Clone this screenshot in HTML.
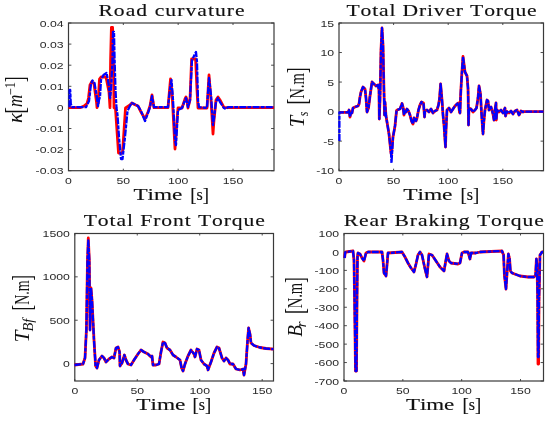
<!DOCTYPE html>
<html><head><meta charset="utf-8"><title>Figure</title>
<style>
html,body{margin:0;padding:0;background:#fff;width:550px;height:421px;overflow:hidden}
svg{display:block}
text{font-kerning:none;font-variant-ligatures:none}
.tk{font-family:"Liberation Sans",Arial,sans-serif;font-size:8.9px;fill:#2a2a2a}
.ti{font-family:"Liberation Serif","Times New Roman",serif;font-size:17px;fill:#111;stroke:#111;stroke-width:0.15px}
.xl{font-family:"Liberation Serif","Times New Roman",serif;font-size:16px;fill:#111;stroke:#111;stroke-width:0.15px}
.yl{font-family:"Liberation Serif","DejaVu Serif",serif;font-size:16px;fill:#111}
</style></head>
<body>
<svg width="550" height="421" viewBox="0 0 550 421">
<rect width="550" height="421" fill="#fff"/>
<clipPath id="cTL"><rect x="67.3" y="21.8" width="207.9" height="150.1"/></clipPath>
<clipPath id="cTR"><rect x="337.8" y="21.8" width="206.9" height="150.1"/></clipPath>
<clipPath id="cBL"><rect x="73.6" y="232.3" width="201.1" height="149.9"/></clipPath>
<clipPath id="cBR"><rect x="342.8" y="232.3" width="201.9" height="149.9"/></clipPath>
<rect x="68.5" y="23" width="205.5" height="147.7" fill="none" stroke="#3a3a3a" stroke-width="1.2"/>
<path d="M68.50 170.7v-2.0M68.50 23v2.0M123.34 170.7v-2.0M123.34 23v2.0M178.17 170.7v-2.0M178.17 23v2.0M233.00 170.7v-2.0M233.00 23v2.0M68.5 23.00h2.9M274 23.00h-2.9M68.5 44.10h2.9M274 44.10h-2.9M68.5 65.20h2.9M274 65.20h-2.9M68.5 86.30h2.9M274 86.30h-2.9M68.5 107.40h2.9M274 107.40h-2.9M68.5 128.50h2.9M274 128.50h-2.9M68.5 149.60h2.9M274 149.60h-2.9M68.5 170.70h2.9M274 170.70h-2.9" stroke="#3a3a3a" stroke-width="0.9" fill="none"/>
<g clip-path="url(#cTL)" fill="none" stroke-linejoin="round">
<polyline points="68.5,107.7 80,107.7 84,106 87,103.5 88.5,98 90,85 92,81.5 94,84 96.5,102 97,107.7 98,104 99.5,79 101,77 106,77 109,92 110,107.7 110.6,60 111.4,27.5 112.6,27.5 113.4,60 114,107.7 115.5,109 118.5,153 122.5,153 125.5,108 127,107 130,105 132,103 134.5,104.5 138,106 141,112 145,119 148,112 150,106 152,95 154,107.7 168,107.7 170.5,79 172,92 175,149 177,120 178,108 182,108 185,99 186,97 187,100 188,108 190,100 191.6,59 195.6,59 197,90 198,108 207,108 209,75 211,100 213,134 214,120 216,100 218,97 220,100 224,107.7 274,107.7" stroke="#ff0000" stroke-width="2.8"/>
<polyline points="69.6,107.2 69.6,90 70.2,90 70.8,104 72,107.2 86,107.2 89,101 89.5,97 91,84 92.5,80.5 94.5,83 97,98 98,106 99,100 100,97 101,80 103.5,75 106.5,73 108,80 109,87 110,98 111,90 112.5,60 113,32 114,32 114.6,60 115.5,90 116.5,108 117.5,115 119,137 121,159 122.5,159 125,137 127.5,111 131.5,103 134.5,104 138,106 141,111 145,121 148,113 150,107.2 152,96 154,107.2 168,107.2 170.5,85 171.5,80 173,100 175,140 176,145 178,110 182,108 185,100 186,98 188,107.2 190,100 192,60 196,52 197,62 198,100 199,107.2 207,108 209,78 211,95 213,125 214,118 216,102 218,98 220,102 224,108 226,109 228,107.2 274,107.2" stroke="#0000ff" stroke-width="2.3" stroke-dasharray="7 1.1 4 1.1"/>
</g>
<text class="tk" text-anchor="middle" transform="translate(68.50 184.00) scale(1.38 1)">0</text>
<text class="tk" text-anchor="middle" transform="translate(123.34 184.00) scale(1.38 1)">50</text>
<text class="tk" text-anchor="middle" transform="translate(178.17 184.00) scale(1.38 1)">100</text>
<text class="tk" text-anchor="middle" transform="translate(233.00 184.00) scale(1.38 1)">150</text>
<text class="tk" text-anchor="end" transform="translate(63.60 26.60) scale(1.38 1)">0.04</text>
<text class="tk" text-anchor="end" transform="translate(63.60 47.70) scale(1.38 1)">0.03</text>
<text class="tk" text-anchor="end" transform="translate(63.60 68.80) scale(1.38 1)">0.02</text>
<text class="tk" text-anchor="end" transform="translate(63.60 89.90) scale(1.38 1)">0.01</text>
<text class="tk" text-anchor="end" transform="translate(63.60 111.00) scale(1.38 1)">0</text>
<text class="tk" text-anchor="end" transform="translate(63.60 132.10) scale(1.38 1)">-0.01</text>
<text class="tk" text-anchor="end" transform="translate(63.60 153.20) scale(1.38 1)">-0.02</text>
<text class="tk" text-anchor="end" transform="translate(63.60 174.30) scale(1.38 1)">-0.03</text>
<rect x="339" y="23" width="204.5" height="147.7" fill="none" stroke="#3a3a3a" stroke-width="1.2"/>
<path d="M339.00 170.7v-2.0M339.00 23v2.0M393.60 170.7v-2.0M393.60 23v2.0M448.20 170.7v-2.0M448.20 23v2.0M502.80 170.7v-2.0M502.80 23v2.0M339 22.98h2.9M543.5 22.98h-2.9M339 52.52h2.9M543.5 52.52h-2.9M339 82.06h2.9M543.5 82.06h-2.9M339 111.60h2.9M543.5 111.60h-2.9M339 141.14h2.9M543.5 141.14h-2.9M339 170.68h2.9M543.5 170.68h-2.9" stroke="#3a3a3a" stroke-width="0.9" fill="none"/>
<g clip-path="url(#cTR)" fill="none" stroke-linejoin="round">
<polyline points="339.5,112.3 348,112.3 349,110 350,117 351,112 352,113 353,108 355,107 358,106 359,104 360,97 361,92 363,87 365,89 366,98 367,112 368.5,108 370,96 372,82 374,84 376,86 378,85 379,90 379.3,119 380,100 381,50 382,28 383,45 384,92 384.5,115 385,102 386,116 387,122 389,134 391,153 391.5,154 393,137 395,126 396.5,111 397,110 400,109 402,103.5 403,107 404,115 405,110 406,112 407,109 408.5,111 410,115 411.5,121 413,124 414,118 415,120 416,121 417,118 418.5,110 420,105 421.5,102 423.5,103 424.5,117 425,111 427,110 429,112 431,109 433,113 435,111 437,110 438.5,105 439.5,99 440.6,84 442,100 443,115 444,125 445,140 445.5,147 446,130 447,110 449,108 451,112 453,109 455,106 457,104 458.5,103 459.5,112 460,113 460.5,98 461,88 462,71 463,56.5 465,72 467,76 468,88 468.2,98 468.5,125 469,108 471,109 473,112 475,110 476.5,108 478,98 479,86 480.5,94 481.5,113 483,134 484,120 485,110 487,100 488,101 489,110 491,107 493,114 494,120 495,110 496,103 496.3,120 497,110 499,112 501,110 503,113 505,108 505.5,116 507,111.5 509,113 511,111 513,114 515,111 517,110 519,115 521,111 523,112 524,111.6 543.5,111.6" stroke="#ff0000" stroke-width="2.8"/>
<polyline points="339.4,141 339.4,112.3 339.5,112.3 348,112.3 349,110 350,117 351,112 352,113 353,108 355,107 358,106 359,104 360,97 361,92 363,87 365,89 366,98 367,112 368.5,108 370,96 372,82 374,84 376,86 378,85 379,90 379.3,119 380,100 381,50 382,28 383,45 384,92 384.5,115 385,102 386,116 387,122 389,134 391,153 391.5,163 393,137 395,126 396.5,111 397,110 400,109 402,103.5 403,107 404,115 405,110 406,112 407,109 408.5,111 410,115 411.5,121 413,124 414,118 415,120 416,121 417,118 418.5,110 420,105 421.5,102 423.5,103 424.5,117 425,111 427,110 429,112 431,109 433,113 435,111 437,110 438.5,105 439.5,99 440.6,84 442,100 443,115 444,125 445,140 445.5,147 446,130 447,110 449,108 451,112 453,109 455,106 457,104 458.5,103 459.5,112 460,113 460.5,98 461,88 462,71 463,56.5 465,72 467,76 468,88 468.2,98 468.5,125 469,108 471,109 473,112 475,110 476.5,108 478,98 479,86 480.5,94 481.5,113 483,134 484,120 485,110 487,100 488,101 489,110 491,107 493,114 494,120 495,110 496,103 496.3,120 497,110 499,112 501,110 503,113 505,108 505.5,116 507,111.5 509,113 511,111 513,114 515,111 517,110 519,115 521,111 523,112 524,111.6 543.5,111.6" stroke="#0000ff" stroke-width="2.3" stroke-dasharray="7 1.1 4 1.1"/>
</g>
<text class="tk" text-anchor="middle" transform="translate(339.00 184.00) scale(1.38 1)">0</text>
<text class="tk" text-anchor="middle" transform="translate(393.60 184.00) scale(1.38 1)">50</text>
<text class="tk" text-anchor="middle" transform="translate(448.20 184.00) scale(1.38 1)">100</text>
<text class="tk" text-anchor="middle" transform="translate(502.80 184.00) scale(1.38 1)">150</text>
<text class="tk" text-anchor="end" transform="translate(334.10 26.58) scale(1.38 1)">15</text>
<text class="tk" text-anchor="end" transform="translate(334.10 56.12) scale(1.38 1)">10</text>
<text class="tk" text-anchor="end" transform="translate(334.10 85.66) scale(1.38 1)">5</text>
<text class="tk" text-anchor="end" transform="translate(334.10 115.20) scale(1.38 1)">0</text>
<text class="tk" text-anchor="end" transform="translate(334.10 144.74) scale(1.38 1)">-5</text>
<text class="tk" text-anchor="end" transform="translate(334.10 174.28) scale(1.38 1)">-10</text>
<rect x="74.8" y="233.5" width="198.7" height="147.5" fill="none" stroke="#3a3a3a" stroke-width="1.2"/>
<path d="M74.80 381v-2.0M74.80 233.5v2.0M137.26 381v-2.0M137.26 233.5v2.0M199.73 381v-2.0M199.73 233.5v2.0M262.19 381v-2.0M262.19 233.5v2.0M74.8 233.46h2.9M273.5 233.46h-2.9M74.8 276.84h2.9M273.5 276.84h-2.9M74.8 320.22h2.9M273.5 320.22h-2.9M74.8 363.60h2.9M273.5 363.60h-2.9" stroke="#3a3a3a" stroke-width="0.9" fill="none"/>
<g clip-path="url(#cBL)" fill="none" stroke-linejoin="round">
<polyline points="74.5,365 83,364 85,358 86.4,330 87.5,260 88.3,238 89.3,260 90,330 90.5,300 91,288 92,300 94,340 95.6,366 97,368 99,360 102,356 104,358 106,362 109,359 112,357 114,358 116,348 118,347 119.6,352 120,366 122,363 124.4,355 126,360 128,364 131,365 134,360 138,354 141,350 144,352 148,354 151,357 152,356 153,365 156,365 159,364 161,352 163,342 165,343 167,348 170,350 173,355 176,357 180,360 181.6,368 183,371 185,364 188,356 191,350 194,354 195,357 197,349 199,350 201,360 204,364 207,366 208,370 211,362 214,353 217,347 219,348 222,358 224,361 226,358 228,360 230,364 233,364 236,369 240,370 243,369 244,375 246,364 247.6,340 248.6,328 250,334 251,343 254,345.5 260,347.5 266,348.5 273.5,349.2" stroke="#ff0000" stroke-width="2.8"/>
<polyline points="74.5,365 83,364 85,358 86.4,330 87.5,260 88.3,240.5 89.3,260 90,330 90.5,300 91,288 92,300 94,340 95.6,366 97,368 99,360 102,356 104,358 106,362 109,359 112,357 114,358 116,348 118,347 119.6,352 120,366 122,363 124.4,355 126,360 128,364 131,365 134,360 138,354 141,350 144,352 148,354 151,357 152,356 153,365 156,365 159,364 161,352 163,342 165,343 167,348 170,350 173,355 176,357 180,360 181.6,368 183,371 185,364 188,356 191,350 194,354 195,357 197,349 199,350 201,360 204,364 207,366 208,370 211,362 214,353 217,347 219,348 222,358 224,361 226,358 228,360 230,364 233,364 236,369 240,370 243,369 244,375 246,364 247.6,340 248.6,328 250,334 251,343 254,345.5 260,347.5 266,348.5 273.5,349.2" stroke="#0000ff" stroke-width="2.3" stroke-dasharray="7 1.1 4 1.1"/>
</g>
<text class="tk" text-anchor="middle" transform="translate(74.80 394.30) scale(1.38 1)">0</text>
<text class="tk" text-anchor="middle" transform="translate(137.26 394.30) scale(1.38 1)">50</text>
<text class="tk" text-anchor="middle" transform="translate(199.73 394.30) scale(1.38 1)">100</text>
<text class="tk" text-anchor="middle" transform="translate(262.19 394.30) scale(1.38 1)">150</text>
<text class="tk" text-anchor="end" transform="translate(69.90 237.06) scale(1.38 1)">1500</text>
<text class="tk" text-anchor="end" transform="translate(69.90 280.44) scale(1.38 1)">1000</text>
<text class="tk" text-anchor="end" transform="translate(69.90 323.82) scale(1.38 1)">500</text>
<text class="tk" text-anchor="end" transform="translate(69.90 367.20) scale(1.38 1)">0</text>
<rect x="344" y="233.5" width="199.5" height="147.5" fill="none" stroke="#3a3a3a" stroke-width="1.2"/>
<path d="M344.00 381v-2.0M344.00 233.5v2.0M402.83 381v-2.0M402.83 233.5v2.0M461.67 381v-2.0M461.67 233.5v2.0M520.50 381v-2.0M520.50 233.5v2.0M344 233.50h2.9M543.5 233.50h-2.9M344 251.94h2.9M543.5 251.94h-2.9M344 270.38h2.9M543.5 270.38h-2.9M344 288.81h2.9M543.5 288.81h-2.9M344 307.25h2.9M543.5 307.25h-2.9M344 325.69h2.9M543.5 325.69h-2.9M344 344.13h2.9M543.5 344.13h-2.9M344 362.56h2.9M543.5 362.56h-2.9M344 381.00h2.9M543.5 381.00h-2.9" stroke="#3a3a3a" stroke-width="0.9" fill="none"/>
<g clip-path="url(#cBR)" fill="none" stroke-linejoin="round">
<polyline points="344.6,258 345.2,252.5 346,252 353,251 354,260 355,330 355.5,371 356.5,371 357,300 357.5,256 358,253 360,254 362,258 364,261 366,253 368,252 382,252 383,260 384,273 386,276 387,265 388,253 402,252 405,257 408,263 411,268 414,272 416,264 418,255 420,252 422,255 425,269 427,277 429,254 432,255 436,261 440,267 444,271 447,254 449,261 451,263 458,264 460,263 462,253 464,252 468,252 470,259 471,253 476,253 480,252 502,251 503.6,255 504.4,275 506,289 507.6,265 508.4,254 509.6,259 510.4,271 512,273 520,276 528,277 534,277 535.6,275 536.4,259 537,265 537.6,295 538,364 538.6,364 539,300 540,255 542,252 543,252" stroke="#ff0000" stroke-width="2.8"/>
<polyline points="344.6,258 345.2,252.5 346,252 353,251 354,260 355,330 355.5,371 356.5,371 357,300 357.5,256 358,253 360,254 362,258 364,261 366,253 368,252 382,252 383,260 384,273 386,276 387,265 388,253 402,252 405,257 408,263 411,268 414,272 416,264 418,255 420,252 422,255 425,269 427,277 429,254 432,255 436,261 440,267 444,271 447,254 449,261 451,263 458,264 460,263 462,253 464,252 468,252 470,259 471,253 476,253 480,252 502,251 503.6,255 504.4,275 506,289 507.6,265 508.4,254 509.6,259 510.4,271 512,273 520,276 528,277 534,277 535.6,275 536.4,259 537,265 537.6,295 538,357 538.6,357 539,300 540,255 542,252 543,252" stroke="#0000ff" stroke-width="2.3" stroke-dasharray="7 1.1 4 1.1"/>
</g>
<text class="tk" text-anchor="middle" transform="translate(344.00 394.30) scale(1.38 1)">0</text>
<text class="tk" text-anchor="middle" transform="translate(402.83 394.30) scale(1.38 1)">50</text>
<text class="tk" text-anchor="middle" transform="translate(461.67 394.30) scale(1.38 1)">100</text>
<text class="tk" text-anchor="middle" transform="translate(520.50 394.30) scale(1.38 1)">150</text>
<text class="tk" text-anchor="end" transform="translate(339.10 237.10) scale(1.38 1)">100</text>
<text class="tk" text-anchor="end" transform="translate(339.10 255.54) scale(1.38 1)">0</text>
<text class="tk" text-anchor="end" transform="translate(339.10 273.98) scale(1.38 1)">-100</text>
<text class="tk" text-anchor="end" transform="translate(339.10 292.42) scale(1.38 1)">-200</text>
<text class="tk" text-anchor="end" transform="translate(339.10 310.85) scale(1.38 1)">-300</text>
<text class="tk" text-anchor="end" transform="translate(339.10 329.29) scale(1.38 1)">-400</text>
<text class="tk" text-anchor="end" transform="translate(339.10 347.73) scale(1.38 1)">-500</text>
<text class="tk" text-anchor="end" transform="translate(339.10 366.17) scale(1.38 1)">-600</text>
<text class="tk" text-anchor="end" transform="translate(339.10 384.60) scale(1.38 1)">-700</text>
<text class="ti" style="letter-spacing:0.841px" transform="translate(98.38 15.90) scale(1.27 1)">Road curvature</text>
<text class="ti" style="letter-spacing:0.664px" transform="translate(346.51 15.90) scale(1.27 1)">Total Driver Torque</text>
<text class="ti" style="letter-spacing:0.730px" transform="translate(83.71 226.10) scale(1.27 1)">Total Front Torque</text>
<text class="ti" style="letter-spacing:0.736px" transform="translate(343.68 226.10) scale(1.27 1)">Rear Braking Torque</text>
<text class="xl" transform="translate(133.38 199.60) scale(1.4489 1)">Time</text>
<text class="xl" transform="translate(190.20 199.60) scale(1.0027 1)"><tspan font-size="18.8" dy="1.5">[</tspan><tspan dy="-1.5">s</tspan><tspan font-size="18.8" dy="1.5">]</tspan></text>
<text class="xl" transform="translate(403.18 199.60) scale(1.4610 1)">Time</text>
<text class="xl" transform="translate(460.40 199.60) scale(1.0027 1)"><tspan font-size="18.8" dy="1.5">[</tspan><tspan dy="-1.5">s</tspan><tspan font-size="18.8" dy="1.5">]</tspan></text>
<text class="xl" transform="translate(136.28 409.60) scale(1.4550 1)">Time</text>
<text class="xl" transform="translate(192.60 409.60) scale(1.0027 1)"><tspan font-size="18.8" dy="1.5">[</tspan><tspan dy="-1.5">s</tspan><tspan font-size="18.8" dy="1.5">]</tspan></text>
<text class="xl" transform="translate(405.89 409.60) scale(1.4337 1)">Time</text>
<text class="xl" transform="translate(462.60 409.60) scale(1.0027 1)"><tspan font-size="18.8" dy="1.5">[</tspan><tspan dy="-1.5">s</tspan><tspan font-size="18.8" dy="1.5">]</tspan></text>
<text class="yl" transform="translate(21.80 123.07) scale(1.37 1) rotate(-90) scale(1.3213 1)"><tspan font-style="italic">κ</tspan></text>
<text class="yl" transform="translate(21.80 113.82) scale(1.37 1) rotate(-90) scale(1.0661 1)"><tspan font-size="19.2" dy="1.6">[</tspan><tspan dy="-1.6" font-style="italic">m</tspan></text>
<text class="yl" transform="translate(21.80 95.32) scale(1.37 1) rotate(-90) scale(1.1043 1)"><tspan font-size="11.2" dy="-4.2">−</tspan><tspan font-size="11.2" dy="-0.9">1</tspan></text>
<text class="yl" transform="translate(21.80 82.10) scale(1.37 1) rotate(-90) scale(0.8655 1)"><tspan font-size="19.2" dy="1.6">]</tspan></text>
<text class="yl" transform="translate(304.20 127.14) scale(1.37 1) rotate(-90) scale(1.2845 1)"><tspan font-style="italic">T</tspan></text>
<text class="yl" transform="translate(304.20 116.35) scale(1.37 1) rotate(-90) scale(1.0817 1)"><tspan font-style="italic" font-size="11.2" dy="2.8">s</tspan></text>
<text class="yl" transform="translate(304.20 104.60) scale(1.37 1) rotate(-90) scale(0.9147 1)"><tspan font-size="19.2" dy="1.6">[</tspan><tspan dy="-1.6">N.m</tspan><tspan font-size="19.2" dy="1.6">]</tspan></text>
<text class="yl" transform="translate(29.20 342.60) scale(1.37 1) rotate(-90) scale(1.3414 1)"><tspan font-style="italic">T</tspan></text>
<text class="yl" transform="translate(29.20 331.53) scale(1.37 1) rotate(-90) scale(1.2837 1)"><tspan font-style="italic" font-size="11.2" dy="2.8">Bf</tspan></text>
<text class="yl" transform="translate(29.20 310.44) scale(1.37 1) rotate(-90) scale(0.8725 1)"><tspan font-size="19.2" dy="1.6">[</tspan><tspan dy="-1.6">N.m</tspan><tspan font-size="19.2" dy="1.6">]</tspan></text>
<text class="yl" transform="translate(302.00 336.78) scale(1.37 1) rotate(-90) scale(1.1862 1)"><tspan font-style="italic">B</tspan></text>
<text class="yl" transform="translate(302.00 327.20) scale(1.37 1) rotate(-90) scale(1.3206 1)"><tspan font-style="italic" font-size="11.2" dy="2.8">r</tspan></text>
<text class="yl" transform="translate(302.00 314.09) scale(1.37 1) rotate(-90) scale(0.9041 1)"><tspan font-size="19.2" dy="1.6">[</tspan><tspan dy="-1.6">N.m</tspan><tspan font-size="19.2" dy="1.6">]</tspan></text>
</svg>
</body></html>
